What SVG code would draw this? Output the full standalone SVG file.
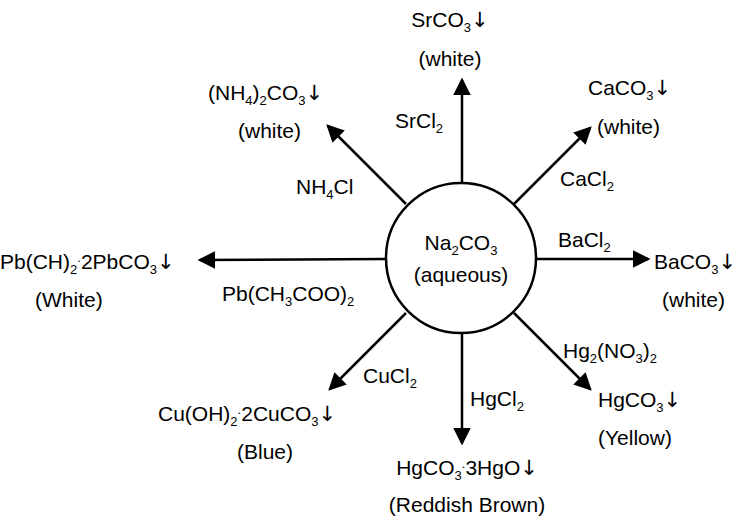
<svg xmlns="http://www.w3.org/2000/svg" width="753" height="523" viewBox="0 0 753 523">
<style>
text{font-family:"Liberation Sans",Arial,sans-serif;font-size:21px;fill:#000}
.s{font-size:13px}
.d{font-family:"DejaVu Sans",sans-serif;fill:#000}
line{stroke:#000;stroke-width:2.5}
</style>
<defs><marker id="a" markerWidth="7" markerHeight="7" refX="6" refY="3.5" orient="auto" markerUnits="strokeWidth"><path d="M0,0L7,3.5L0,7z" fill="#000"/></marker></defs>
<rect width="753" height="523" fill="#fff"/>
<g id="connectors">
<line x1="462" y1="183" x2="462" y2="80" marker-end="url(#a)"/>
<line x1="514" y1="204" x2="590" y2="128" marker-end="url(#a)"/>
<line x1="536" y1="259" x2="648" y2="259" marker-end="url(#a)"/>
<line x1="514" y1="313" x2="590" y2="389" marker-end="url(#a)"/>
<line x1="462" y1="334" x2="462" y2="443" marker-end="url(#a)"/>
<line x1="406" y1="313" x2="330" y2="389" marker-end="url(#a)"/>
<line x1="386" y1="259" x2="200" y2="260" marker-end="url(#a)"/>
<line x1="406" y1="204" x2="328" y2="126" marker-end="url(#a)"/>
</g>
<g id="center"><circle cx="461" cy="258" r="75" fill="#fff" stroke="#000" stroke-width="2.5"/>
<text x="461" y="250" text-anchor="middle">Na<tspan class="s" dy="5">2</tspan><tspan dy="-5">CO</tspan><tspan class="s" dy="5">3</tspan></text>
<text x="461" y="282" text-anchor="middle">(aqueous)</text></g>
<g id="sr"><text x="450" y="27" text-anchor="middle">SrCO<tspan class="s" dy="5">3</tspan><tspan class="d" dy="-5">↓</tspan></text><text x="450" y="66" text-anchor="middle">(white)</text><text x="395" y="128">SrCl<tspan class="s" dy="5">2</tspan></text></g>
<g id="ca"><text x="588" y="95">CaCO<tspan class="s" dy="5">3</tspan><tspan class="d" dy="-5">↓</tspan></text><text x="597" y="134">(white)</text><text x="560" y="186">CaCl<tspan class="s" dy="5">2</tspan></text></g>
<g id="ba"><text x="558" y="247">BaCl<tspan class="s" dy="5">2</tspan></text><text x="654" y="269">BaCO<tspan class="s" dy="5">3</tspan><tspan class="d" dy="-5">↓</tspan></text><text x="662" y="307">(white)</text></g>
<g id="hg2"><text x="563" y="358">Hg<tspan class="s" dy="5">2</tspan><tspan dy="-5">(NO</tspan><tspan class="s" dy="5">3</tspan><tspan dy="-5">)</tspan><tspan class="s" dy="5">2</tspan></text><text x="598" y="407">HgCO<tspan class="s" dy="5">3</tspan><tspan class="d" dy="-5">↓</tspan></text><text x="598" y="445">(Yellow)</text></g>
<g id="hg"><text x="470" y="406">HgCl<tspan class="s" dy="5">2</tspan></text><text x="467" y="475" text-anchor="middle">HgCO<tspan class="s" dy="5">3</tspan><tspan class="s" dy="-12">.</tspan><tspan dy="7">3HgO</tspan><tspan class="d">↓</tspan></text><text x="467" y="512" text-anchor="middle">(Reddish Brown)</text></g>
<g id="cu"><text x="363" y="383">CuCl<tspan class="s" dy="5">2</tspan></text><text x="158" y="421">Cu(OH)<tspan class="s" dy="5">2</tspan><tspan class="s" dy="-12">.</tspan><tspan dy="7">2CuCO</tspan><tspan class="s" dy="5">3</tspan><tspan class="d" dy="-5">↓</tspan></text><text x="237" y="459">(Blue)</text></g>
<g id="pb"><text x="0" y="269">Pb(CH)<tspan class="s" dy="5">2</tspan><tspan class="s" dy="-12">.</tspan><tspan dy="7">2PbCO</tspan><tspan class="s" dy="5">3</tspan><tspan class="d" dy="-5">↓</tspan></text><text x="35" y="307">(White)</text><text x="222" y="301">Pb(CH<tspan class="s" dy="5">3</tspan><tspan dy="-5">COO)</tspan><tspan class="s" dy="5">2</tspan></text></g>
<g id="nh"><text x="208" y="100">(NH<tspan class="s" dy="5">4</tspan><tspan dy="-5">)</tspan><tspan class="s" dy="5">2</tspan><tspan dy="-5">CO</tspan><tspan class="s" dy="5">3</tspan><tspan class="d" dy="-5">↓</tspan></text><text x="238" y="138">(white)</text><text x="296" y="194">NH<tspan class="s" dy="5">4</tspan><tspan dy="-5">Cl</tspan></text></g>
</svg>
